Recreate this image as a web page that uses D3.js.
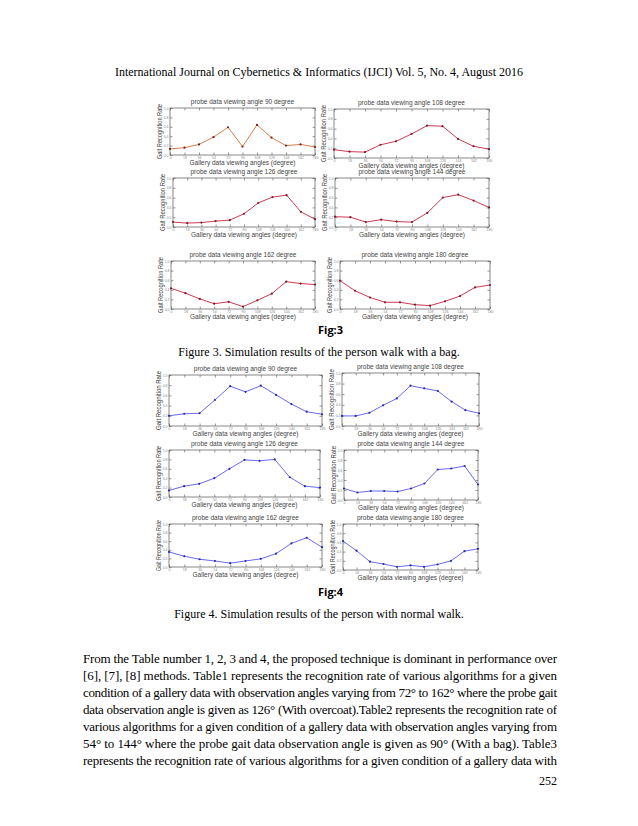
<!DOCTYPE html>
<html>
<head>
<meta charset="utf-8">
<script src="https://cdn.jsdelivr.net/npm/d3@7"></script>
<style>
  body { margin: 0; background: #fff; }
  svg { display: block; }
</style>
</head>
<body>
<div id="page"></div>
<script>
// gallery viewing angles (x) shared by all panels
const galleryAngles = [0, 18, 36, 54, 72, 90, 108, 126, 144, 162, 180];
const probeAngles = [90, 108, 126, 144, 162, 180];
const yTicks = [0, 0.2, 0.4, 0.6, 0.8, 1];

// Fig 3 : walk with a bag
const bag90  = [0.13, 0.155, 0.225, 0.38, 0.59, 0.18, 0.64, 0.37, 0.20, 0.225, 0.17];
const bag108 = [0.17, 0.13, 0.12, 0.27, 0.34, 0.49, 0.66, 0.65, 0.39, 0.24, 0.18];
const bag126 = [0.10, 0.08, 0.09, 0.12, 0.14, 0.27, 0.49, 0.61, 0.65, 0.31, 0.16];
const bag144 = [0.21, 0.20, 0.10, 0.15, 0.11, 0.10, 0.29, 0.60, 0.66, 0.54, 0.40];
const bag162 = [0.43, 0.33, 0.21, 0.11, 0.15, 0.05, 0.18, 0.32, 0.57, 0.53, 0.51];
const bag180 = [0.59, 0.38, 0.24, 0.14, 0.14, 0.09, 0.07, 0.16, 0.27, 0.45, 0.50];

// Fig 4 : normal walk
const normal90  = [0.20, 0.24, 0.25, 0.51, 0.78, 0.67, 0.79, 0.61, 0.43, 0.28, 0.23];
const normal108 = [0.19, 0.19, 0.25, 0.39, 0.52, 0.76, 0.71, 0.66, 0.46, 0.30, 0.24];
const normal126 = [0.14, 0.23, 0.28, 0.40, 0.60, 0.79, 0.77, 0.80, 0.42, 0.23, 0.20];
const normal144 = [0.23, 0.15, 0.18, 0.18, 0.17, 0.23, 0.33, 0.61, 0.63, 0.68, 0.31];
const normal162 = [0.35, 0.25, 0.18, 0.14, 0.09, 0.14, 0.19, 0.31, 0.55, 0.68, 0.46];
const normal180 = [0.63, 0.42, 0.18, 0.13, 0.07, 0.10, 0.07, 0.12, 0.20, 0.41, 0.46];

const bagSeries = [bag90, bag108, bag126, bag144, bag162, bag180];
const normalSeries = [normal90, normal108, normal126, normal144, normal162, normal180];

const paragraph = [
  "From the Table number 1, 2, 3 and 4, the proposed technique is dominant in performance over",
  "[6], [7], [8] methods. Table1 represents the recognition rate of various algorithms for a given",
  "condition of a gallery data with observation angles varying from 72\u00b0 to 162\u00b0 where the probe gait",
  "data observation angle is given as 126\u00b0 (With overcoat).Table2 represents the recognition rate of",
  "various algorithms for a given condition of a gallery data with observation angles varying from",
  "54\u00b0 to 144\u00b0 where the probe gait data observation angle is given as 90\u00b0 (With a bag). Table3",
  "represents the recognition rate of various algorithms for a given condition of a gallery data with"
];

// panel boxes (left, right, top, bottom) in page pixels
const fig3Boxes = [
  [170, 315, 108, 155], [334, 489, 109, 158],
  [173, 315, 178, 227], [335, 489, 178, 227],
  [171, 315, 261, 309], [340, 490, 261, 309]
];
const fig4Boxes = [
  [169, 322, 375, 426], [342, 479, 373, 426],
  [169, 320, 450, 497], [344, 478, 450, 500],
  [169, 322, 524, 567], [343, 478, 524, 570]
];

const W = 638, H = 826;
const svg = d3.select("#page").append("svg")
  .attr("width", W).attr("height", H);

svg.append("rect").attr("width", W).attr("height", H).attr("fill", "#fff");

const serif = "'Liberation Serif', 'Times New Roman', serif";
const sans = "'Liberation Sans', Arial, sans-serif";

// header
svg.append("text")
  .attr("x", W / 2).attr("y", 76)
  .attr("text-anchor", "middle")
  .attr("font-family", serif).attr("font-size", 12)
  .text("International Journal on Cybernetics & Informatics (IJCI) Vol. 5, No. 4, August 2016");

function drawPanel(box, values, probe, lineColor, dotColor) {
  const [x0, x1, y0, y1] = box;
  const x = d3.scaleLinear().domain([0, 180]).range([x0, x1]);
  const y = d3.scaleLinear().domain([0, 1]).range([y1, y0]);
  const g = svg.append("g");

  g.append("rect")
    .attr("x", x0).attr("y", y0)
    .attr("width", x1 - x0).attr("height", y1 - y0)
    .attr("fill", "#fff").attr("stroke", "#555").attr("stroke-width", 0.7);

  const tickStyle = sel => {
    sel.select(".domain").remove();
    sel.selectAll("line").attr("stroke", "#555").attr("stroke-width", 0.6);
    sel.selectAll("text").attr("font-size", 3.5).attr("fill", "#888")
      .attr("font-family", sans);
  };

  g.append("g").attr("transform", `translate(0,${y1})`)
    .call(d3.axisBottom(x).tickValues(galleryAngles).tickSize(-2.5).tickPadding(1.5))
    .call(tickStyle);
  g.append("g").attr("transform", `translate(0,${y0})`)
    .call(d3.axisTop(x).tickValues(galleryAngles).tickSize(-2.5).tickFormat(""))
    .call(tickStyle);
  g.append("g").attr("transform", `translate(${x0},0)`)
    .call(d3.axisLeft(y).tickValues(yTicks).tickSize(-2.5).tickPadding(1.5))
    .call(tickStyle);
  g.append("g").attr("transform", `translate(${x1},0)`)
    .call(d3.axisRight(y).tickValues(yTicks).tickSize(-2.5).tickFormat(""))
    .call(tickStyle);

  const line = d3.line()
    .x((d, i) => x(galleryAngles[i]))
    .y(d => y(d));

  g.append("path").datum(values)
    .attr("d", line)
    .attr("fill", "none")
    .attr("stroke", lineColor)
    .attr("stroke-width", 1);

  g.selectAll("circle.pt").data(values).enter()
    .append("circle")
    .attr("cx", (d, i) => x(galleryAngles[i]))
    .attr("cy", d => y(d))
    .attr("r", 1.1)
    .attr("fill", dotColor);

  g.append("text")
    .attr("x", (x0 + x1) / 2).attr("y", y0 - 4)
    .attr("text-anchor", "middle")
    .attr("font-family", sans).attr("font-size", 6.5).attr("fill", "#444")
    .text(`probe data viewing angle ${probe} degree`);

  g.append("text")
    .attr("x", (x0 + x1) / 2).attr("y", y1 + 10)
    .attr("text-anchor", "middle")
    .attr("font-family", sans).attr("font-size", 6.5).attr("fill", "#444")
    .text("Gallery data viewing angles (degree)");

  // y label, squeezed to roughly the panel height as in the scan
  g.append("text")
    .attr("transform", `translate(${x0 - 8},${(y0 + y1) / 2}) rotate(-90)`)
    .attr("text-anchor", "middle")
    .attr("font-family", sans).attr("font-size", 7.5).attr("fill", "#444")
    .attr("textLength", (y1 - y0) + 8)
    .attr("lengthAdjust", "spacingAndGlyphs")
    .text("Gait Recognition Rate");
}

fig3Boxes.forEach((b, i) => {
  const lc = i === 0 ? "#d2804a" : "#cc3a55";
  drawPanel(b, bagSeries[i], probeAngles[i], lc, "#7a1a2a");
});
fig4Boxes.forEach((b, i) => {
  drawPanel(b, normalSeries[i], probeAngles[i], "#6a6af0", "#2a2aa0");
});

// figure labels and captions
svg.append("text").attr("x", 318).attr("y", 334)
  .attr("font-family", "'Open Sans', Calibri, sans-serif").attr("font-weight", "bold")
  .attr("font-size", 11).text("Fig:3");
svg.append("text").attr("x", W / 2).attr("y", 356)
  .attr("text-anchor", "middle").attr("font-family", serif).attr("font-size", 12)
  .text("Figure 3. Simulation results of the person walk with a bag.");

svg.append("text").attr("x", 318).attr("y", 596)
  .attr("font-family", "'Open Sans', Calibri, sans-serif").attr("font-weight", "bold")
  .attr("font-size", 11).text("Fig:4");
svg.append("text").attr("x", W / 2).attr("y", 618)
  .attr("text-anchor", "middle").attr("font-family", serif).attr("font-size", 12)
  .text("Figure 4. Simulation results of the person with normal walk.");

// body paragraph, justified
svg.selectAll("text.para").data(paragraph).enter()
  .append("text")
  .attr("class", "para")
  .attr("x", 83)
  .attr("y", (d, i) => 663 + i * 17)
  .attr("font-family", serif).attr("font-size", 13)
  .attr("textLength", 474)
  .attr("lengthAdjust", "spacing")
  .text(d => d);

svg.append("text").attr("x", 557).attr("y", 785)
  .attr("text-anchor", "end").attr("font-family", serif).attr("font-size", 12)
  .text("252");
</script>
</body>
</html>
